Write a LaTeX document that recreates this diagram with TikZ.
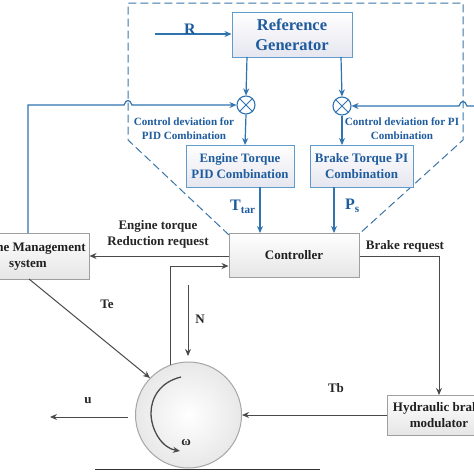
\documentclass[tikz,border=0pt]{standalone}
\usepackage{fontspec}
\setmainfont{Liberation Serif}
\usetikzlibrary{arrows.meta,calc}
\definecolor{bluetxt}{HTML}{1F5C9E}
\definecolor{blueln}{HTML}{2F74B0}
\definecolor{blueedge}{HTML}{5F9CCB}
\definecolor{greyln}{HTML}{4A4A4A}
\tikzset{
  blk/.style={minimum width=0pt,minimum height=0pt,inner sep=0pt,align=center,font=\bfseries\fontsize{13}{16}\selectfont,draw=gray!75,line width=1pt,top color=white,bottom color=gray!20,text=black!88},
  bluebox/.style={blk,draw=blueedge,top color=white,bottom color=blue!25!gray!16,text=bluetxt},
  bl/.style={draw=blueln,line width=1.2pt,-{Stealth[length=7pt,width=6pt]}},
  gl/.style={draw=greyln,line width=1pt,-{Stealth[length=7pt,width=6pt]}},
  lab/.style={inner sep=0pt,font=\bfseries\fontsize{13}{16}\selectfont,text=black!85,align=center},
  bluelab/.style={inner sep=0pt,font=\bfseries\fontsize{11.1}{13.4}\selectfont,text=bluetxt,align=center},
  sumnode/.style={circle,draw=blueln,line width=1.1pt,minimum size=18pt,inner sep=0pt,fill=white},
  dashb/.style={draw=blueln!85!gray,line width=1pt,dash pattern=on 8pt off 4pt},
}
\begin{document}
\begin{tikzpicture}[x=1pt,y=-1pt]
\useasboundingbox (0,0) rectangle (474,474);
\clip (0,0) rectangle (474,474);
\fill[white] (0,0) rectangle (474,474);
% dashed enclosure
\draw[dashb] (229,235) -- (128,140) -- (128,3) -- (463,3) -- (463,140) -- (358,235);
% boxes
\node[bluebox,minimum width=120pt,minimum height=45pt,font=\bfseries\fontsize{16.5}{20}\selectfont] (ref) at (292,34.5) {Reference\\Generator};
\node[bluebox,minimum width=108pt,minimum height=42pt,font=\bfseries\fontsize{12.8}{16}\selectfont] (eng) at (240,166) {Engine Torque\\PID Combination};
\node[bluebox,minimum width=103pt,minimum height=42pt] (brk) at (361.5,166) {Brake Torque PI\\Combination};
\node[blk,minimum width=130pt,minimum height=44pt] (ctl) at (294,255) {Controller};
\node[blk,minimum width=122pt,minimum height=46pt] (ems) at (28,256) {Engine Management\\system};
\node[blk,minimum width=104pt,minimum height=40pt] (hyd) at (439,415) {Hydraulic brake\\modulator};
\node[circle,draw=gray!70,line width=1pt,minimum size=106pt,inner sep=0pt,inner color=white,outer color=gray!18] (whl) at (188.5,415) {};
\node[sumnode] (s1) at (246,105) {};
\node[sumnode] (s2) at (342,106) {};
\draw[blueln,line width=1pt] (s1.north west)--(s1.south east) (s1.north east)--(s1.south west);
\draw[blueln,line width=1pt] (s2.north west)--(s2.south east) (s2.north east)--(s2.south west);
% free ends
\coordinate (rstart) at (155,34);
\coordinate (fbR) at (474,106);
\coordinate (hR1) at (467,106);
\coordinate (hR2) at (459,106);
\coordinate (hL1) at (124,105);
\coordinate (hL2) at (132,105);
\coordinate (emsT) at (28,233);
\coordinate (cL) at (28,105);
% blue connectors
\draw[bl] (rstart) -- (ref.west |- rstart);
\draw[bl] (247,57) -- (s1.north);
\draw[bl] (341,57) -- (s2.north);
\draw[bl] (s1.south) -- (245,145);
\draw[bl] (s2.south) -- (342,145);
\draw[bl] (260,187) -- (260,233);
\draw[bl] (334,187) -- (334,233);
\draw[bl] (emsT) -- (cL) -- (hL1) .. controls (126,99) and (130,99) .. (hL2) -- (s1.west);
\draw[bl] (fbR) -- (hR1) .. controls (465,100) and (461,100) .. (hR2) -- (s2.east);
% grey connectors
\draw[gl] (ctl.west |- 0,256) -- (ems.east |- 0,256);
\draw[gl] (170,365) -- (170,266) -- (ctl.west |- 0,266);
\draw[gl] (188,285) -- (188,356);
\draw[gl] (29,279) -- (150,378);
\draw[gl] (128,417) -- (50,417);
\draw[gl] (hyd.west) -- (whl.east);
\draw[gl] (ctl.east |- 0,256) -- (439,256) -- (439,395);
\draw[greyln,line width=1.3pt,-{Stealth[length=7pt,width=6pt]}] (181,377) .. controls (160,382) and (151,398) .. (151,413) .. controls (151,430) and (162,448) .. (180,451);
\draw[black!80,line width=1.6pt] (95,469.5) -- (320,469.5);
% labels
\node[bluelab] (lpid) at (184,128.5) {Control deviation for\\PID Combination};
\node[bluelab] (lpi) at (402,128.5) {Control deviation for PI\\Combination};
\node[inner sep=0pt,font=\bfseries\fontsize{16}{18}\selectfont,text=bluetxt] (lr) at (190,29) {R};
\node[inner sep=0pt,font=\bfseries\fontsize{16}{18}\selectfont,text=bluetxt,anchor=west] (lt) at (230,207) {T\textsubscript{tar}};
\node[inner sep=0pt,font=\bfseries\fontsize{16}{18}\selectfont,text=bluetxt,anchor=west] (lp) at (345,206) {P\textsubscript{s}};
\node[lab] (ler) at (158,234) {Engine torque\\Reduction request};
\node[lab] (lbr) at (405,246) {Brake request};
\node[lab] (lte) at (107,304) {Te};
\node[lab] (ln) at (200,319) {N};
\node[lab] (lu) at (88,401) {u};
\node[lab] (lw) at (186,442) {ω};
\node[lab] (ltb) at (336,388) {Tb};
\end{tikzpicture}
\end{document}
